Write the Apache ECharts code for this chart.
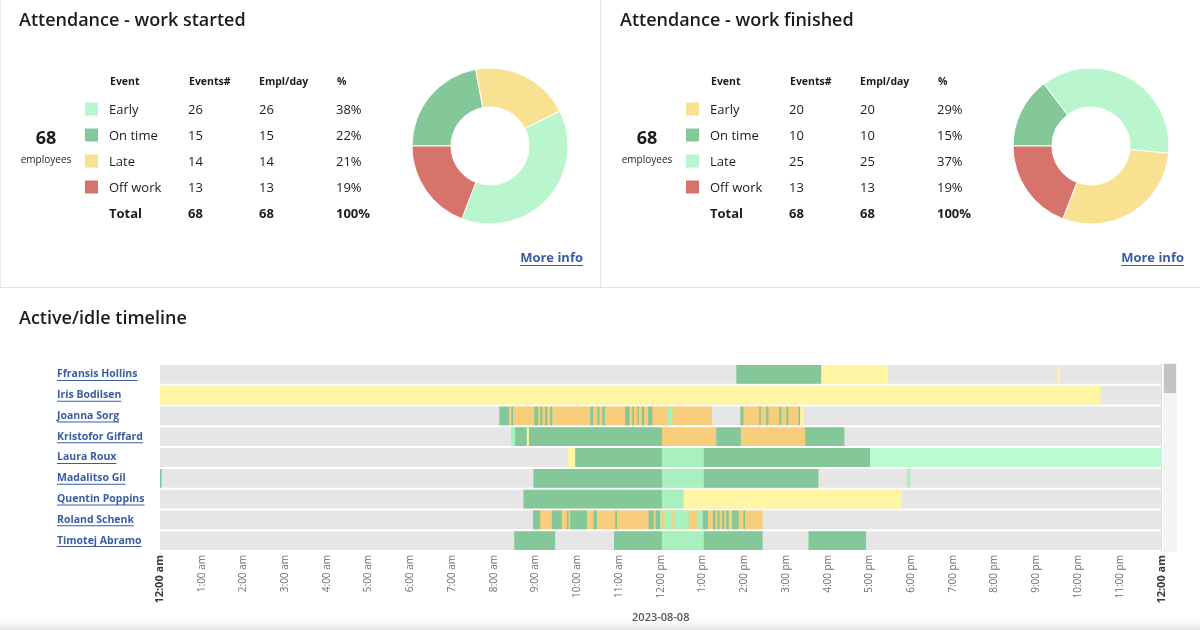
<!DOCTYPE html>
<html>
<head>
<meta charset="utf-8">
<script src="https://cdn.jsdelivr.net/npm/echarts@6/dist/echarts.min.js"></script>
<style>
  html, body { margin: 0; padding: 0; background: #fff; }
  #chart { width: 1200px; height: 630px; }
</style>
</head>
<body>
<div id="chart"></div>
<script>
// attendance tables
const eventNames = ['Early', 'On time', 'Late', 'Off work']
const startedEvents = [26, 15, 14, 13]
const startedEmplDay = [26, 15, 14, 13]
const startedPercent = [38, 22, 21, 19]
const finishedEvents = [20, 10, 25, 13]
const finishedEmplDay = [20, 10, 25, 13]
const finishedPercent = [29, 15, 37, 19]
const totalEmployees = 68
// slice order of the donuts, clockwise from 9 o'clock
const pieOrder = ['On time', 'Late', 'Early', 'Off work']

// timeline
const employees = ['Ffransis Hollins', 'Iris Bodilsen', 'Joanna Sorg', 'Kristofor Giffard', 'Laura Roux',
  'Madalitso Gil', 'Quentin Poppins', 'Roland Schenk', 'Timotej Abramo']
const hourLabels = ['12:00 am', '1:00 am', '2:00 am', '3:00 am', '4:00 am', '5:00 am', '6:00 am', '7:00 am',
  '8:00 am', '9:00 am', '10:00 am', '11:00 am', '12:00 pm', '1:00 pm', '2:00 pm', '3:00 pm', '4:00 pm',
  '5:00 pm', '6:00 pm', '7:00 pm', '8:00 pm', '9:00 pm', '10:00 pm', '11:00 pm', '12:00 am']
const timelineDate = '2023-08-08'
// [row, start hour, end hour, state]
const segments = [
  [0, 13.81, 15.85, 'G'], [0, 15.85, 17.45, 'Y'], [0, 21.52, 21.56, 'Y'],
  [1, 0, 22.54, 'Y'],
  [2, 8.13, 8.37, 'G'], [2, 8.37, 13.23, 'O'],
  [2, 8.42, 8.46, 'G'], [2, 8.97, 9.06, 'G'], [2, 9.11, 9.16, 'G'], [2, 9.23, 9.28, 'G'], [2, 9.35, 9.40, 'G'],
  [2, 10.31, 10.38, 'G'], [2, 10.48, 10.53, 'G'], [2, 10.60, 10.66, 'G'], [2, 11.15, 11.25, 'G'],
  [2, 11.32, 11.36, 'G'], [2, 11.44, 11.47, 'G'], [2, 11.55, 11.60, 'G'], [2, 11.70, 11.80, 'G'],
  [2, 12.16, 12.28, 'M'],
  [2, 13.91, 15.34, 'O'], [2, 13.91, 13.98, 'G'], [2, 14.36, 14.40, 'G'], [2, 14.53, 14.58, 'G'],
  [2, 14.84, 14.89, 'G'], [2, 15.01, 15.06, 'G'], [2, 15.30, 15.34, 'G'], [2, 15.34, 15.42, 'Y'],
  [3, 8.41, 8.51, 'M'], [3, 8.51, 12.03, 'G'], [3, 8.79, 8.84, 'Y'], [3, 12.03, 13.33, 'O'],
  [3, 13.33, 13.92, 'G'], [3, 13.92, 15.46, 'O'], [3, 15.46, 16.40, 'G'],
  [4, 9.77, 9.95, 'Y'], [4, 9.95, 12.03, 'G'], [4, 12.03, 13.03, 'M'], [4, 13.03, 17.02, 'G'], [4, 17.02, 24, 'L'],
  [5, 0, 0.04, 'G'], [5, 8.95, 12.03, 'G'], [5, 12.03, 13.03, 'M'], [5, 13.03, 15.78, 'G'], [5, 17.90, 17.98, 'M'],
  [6, 8.71, 12.03, 'G'], [6, 12.03, 12.55, 'M'], [6, 12.55, 17.78, 'Y'],
  [7, 8.94, 14.44, 'O'],
  [7, 8.94, 9.11, 'G'], [7, 9.39, 9.63, 'G'], [7, 9.75, 9.79, 'G'], [7, 9.83, 10.23, 'G'], [7, 10.39, 10.47, 'G'],
  [7, 10.91, 10.95, 'G'], [7, 11.71, 11.83, 'G'], [7, 11.88, 11.99, 'G'],
  [7, 11.99, 12.03, 'M'], [7, 12.09, 12.27, 'M'], [7, 12.30, 12.67, 'M'], [7, 12.87, 13.01, 'M'],
  [7, 13.01, 13.13, 'G'], [7, 13.25, 13.31, 'G'], [7, 13.36, 13.41, 'G'], [7, 13.47, 13.52, 'G'],
  [7, 13.57, 13.63, 'G'], [7, 13.71, 13.87, 'G'], [7, 13.98, 14.02, 'G'],
  [8, 8.49, 9.47, 'G'], [8, 10.88, 12.03, 'G'], [8, 12.03, 13.03, 'M'], [8, 13.03, 14.44, 'G'], [8, 15.54, 16.92, 'G']
]

const FONT = '"Open Sans", sans-serif'
const TEXT = '#1c1c1c'
const LINK = '#3a5ca2'
const startedColors = ['#b9f6ce', '#84c899', '#f9e192', '#d6736a']
const finishedColors = ['#f9e192', '#84c899', '#b9f6ce', '#d6736a']
const stateColors = { G: '#84c899', O: '#f8ce7c', Y: '#fff5a2', M: '#a9f0bf', L: '#bbfbd1' }
const ROW_BG = '#e6e6e6'

const chart = echarts.init(document.getElementById('chart'))

const measureCtx = document.createElement('canvas').getContext('2d')
function textWidth (str, font) {
  measureCtx.font = font
  return measureCtx.measureText(str).width
}

function label (x, y, text, size, weight, align, color) {
  return {
    type: 'text',
    x: x,
    y: y,
    silent: true,
    style: {
      text: text,
      fill: color || TEXT,
      font: (weight || 'normal') + ' ' + size + 'px ' + FONT,
      align: align || 'left',
      verticalAlign: 'middle'
    }
  }
}

function rect (x, y, w, h, fill) {
  return { type: 'rect', silent: true, shape: { x: x, y: y, width: w, height: h }, style: { fill: fill } }
}

function sum (arr) {
  return arr.reduce((a, b) => a + b, 0)
}

// one attendance panel: title, count, table and link
function panel (ox, title, events, emplDay, percent, colors) {
  const els = [
    label(ox + 19, 21, title, 18, 600),
    label(ox + 46, 139, String(totalEmployees), 18, 'bold', 'center'),
    label(ox + 46, 160, 'employees', 10, 'normal', 'center'),
    label(ox + 110, 82, 'Event', 10.5, 'bold'),
    label(ox + 189, 82, 'Events#', 10.5, 'bold'),
    label(ox + 259, 82, 'Empl/day', 10.5, 'bold'),
    label(ox + 337, 82, '%', 10.5, 'bold')
  ]
  eventNames.forEach((name, i) => {
    const y = 109 + 26 * i
    els.push(rect(ox + 85, y - 6.5, 13, 13, colors[i]))
    els.push(label(ox + 109, y + 1, name, 13))
    els.push(label(ox + 188, y + 1, String(events[i]), 13))
    els.push(label(ox + 259, y + 1, String(emplDay[i]), 13))
    els.push(label(ox + 336, y + 1, percent[i] + '%', 13))
  })
  els.push(label(ox + 109, 214, 'Total', 13, 'bold'))
  els.push(label(ox + 188, 214, String(sum(events)), 13, 'bold'))
  els.push(label(ox + 259, 214, String(sum(emplDay)), 13, 'bold'))
  els.push(label(ox + 336, 214, sum(percent) + '%', 13, 'bold'))
  const linkW = textWidth('More info', 'bold 13px ' + FONT)
  els.push(label(ox + 583, 258, 'More info', 13, 'bold', 'right', LINK))
  els.push(rect(ox + 583 - linkW, 265, linkW, 1, LINK))
  return els
}

function pieSeries (cx, events, colors) {
  return {
    type: 'pie',
    center: [cx, 146],
    radius: [39, 78],
    startAngle: 180,
    clockwise: true,
    silent: true,
    label: { show: false },
    labelLine: { show: false },
    itemStyle: { borderColor: '#fff', borderWidth: 1 },
    data: pieOrder.map(name => {
      const i = eventNames.indexOf(name)
      return { name: name, value: events[i], itemStyle: { color: colors[i] } }
    })
  }
}

function rowRect (params, api, fill) {
  const row = api.value(0)
  const start = api.coord([api.value(1), row])
  const end = api.coord([api.value(2), row])
  const h = api.size([0, 1])[1] - 2
  return {
    type: 'rect',
    shape: { x: start[0], y: start[1] - h / 2, width: Math.max(end[0] - start[0], 1), height: h },
    style: { fill: fill }
  }
}

const NAME_FONT = 'bold 10.5px ' + FONT

const option = {
  animation: false,
  textStyle: { fontFamily: FONT },
  grid: { left: 160, right: 38.5, top: 364, height: 187 },
  xAxis: {
    type: 'value',
    min: 0,
    max: 24,
    interval: 1,
    axisLine: { show: false },
    axisTick: { show: false },
    splitLine: { show: false },
    axisLabel: {
      rotate: 90,
      margin: 4,
      fontSize: 10,
      color: '#707070',
      formatter: v => (v === 0 || v === 24) ? '{b|' + hourLabels[v] + '}' : hourLabels[v],
      rich: { b: { fontWeight: 'bold', fontSize: 11, color: '#3a3a3a' } }
    },
    name: timelineDate,
    nameLocation: 'middle',
    nameGap: 61,
    nameTextStyle: { fontSize: 11, fontWeight: 600, color: '#555' }
  },
  yAxis: {
    type: 'category',
    data: employees,
    inverse: true,
    axisLine: { show: false },
    axisTick: { show: false },
    axisLabel: { show: false },
    splitLine: { show: false }
  },
  series: [
    pieSeries(490, startedEvents, startedColors),
    pieSeries(1091, finishedEvents, finishedColors),
    {
      // grey row background
      type: 'custom',
      silent: true,
      encode: { x: [1, 2], y: 0 },
      data: employees.map((n, i) => [i, 0, 24]),
      renderItem: (params, api) => rowRect(params, api, ROW_BG)
    },
    {
      type: 'custom',
      silent: true,
      encode: { x: [1, 2], y: 0 },
      data: segments.map(s => [s[0], s[1], s[2]]),
      renderItem: (params, api) => rowRect(params, api, stateColors[segments[params.dataIndex][3]])
    },
    {
      // underlined employee links
      type: 'custom',
      silent: true,
      clip: false,
      encode: { x: 1, y: 0 },
      data: employees.map((n, i) => [i, 0]),
      renderItem: (params, api) => {
        const y = api.coord([0, api.value(0)])[1]
        const name = employees[params.dataIndex]
        const w = textWidth(name, NAME_FONT)
        return {
          type: 'group',
          children: [
            { type: 'text', style: { x: 57, y: y, text: name, font: NAME_FONT, fill: LINK, align: 'left', verticalAlign: 'middle' } },
            { type: 'rect', shape: { x: 57, y: y + 5.5, width: w, height: 1 }, style: { fill: LINK } }
          ]
        }
      }
    }
  ],
  graphic: {
    elements: [
      rect(600, 0, 1, 287, '#e4e4e4'),
      rect(0, 0, 1, 287, '#ededed'),
      rect(0, 287, 1200, 1, '#e4e4e4'),
      ...panel(0, 'Attendance - work started', startedEvents, startedEmplDay, startedPercent, startedColors),
      ...panel(601, 'Attendance - work finished', finishedEvents, finishedEmplDay, finishedPercent, finishedColors),
      label(19, 319, 'Active/idle timeline', 18, 600),
      // scrollbar
      rect(1163, 363, 14, 189, '#f4f4f4'),
      rect(1164, 364, 12, 29, '#c3c3c3'),
      rect(1161, 363, 1, 189, '#d8d8d8'),
      {
        type: 'rect',
        silent: true,
        shape: { x: 0, y: 616, width: 1200, height: 14 },
        style: {
          fill: new echarts.graphic.LinearGradient(0, 0, 0, 1, [
            { offset: 0, color: 'rgba(255,255,255,0)' },
            { offset: 1, color: 'rgba(225,225,225,1)' }
          ])
        }
      }
    ]
  }
}

chart.setOption(option)
</script>
</body>
</html>
